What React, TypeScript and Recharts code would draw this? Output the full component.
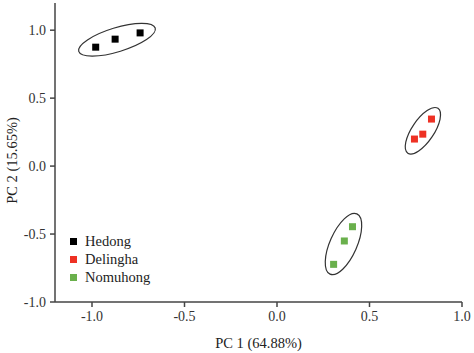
import { Label, Scatter, ScatterChart, XAxis, YAxis } from "recharts";

const hedongX = [-0.98, -0.875, -0.74];
const hedongY = [0.875, 0.934, 0.98];
const delinghaX = [0.743, 0.788, 0.835];
const delinghaY = [0.199, 0.235, 0.346];
const nomuhongX = [0.306, 0.364, 0.408];
const nomuhongY = [-0.723, -0.551, -0.446];

const xTicks = [-1.0, -0.5, 0.0, 0.5, 1.0];
const yTicks = [-1.0, -0.5, 0.0, 0.5, 1.0];

const toPoints = (xs: number[], ys: number[]) =>
  xs.map((x, i) => ({ x, y: ys[i] }));

const centroid = (xs: number[], ys: number[]) => ({
  x: xs.reduce((a, b) => a + b, 0) / xs.length,
  y: ys.reduce((a, b) => a + b, 0) / ys.length,
});

const groups = [
  { name: "Hedong", color: "#000000", data: toPoints(hedongX, hedongY), ring: { rx: 40, ry: 12, angle: -17 }, c: centroid(hedongX, hedongY) },
  { name: "Delingha", color: "#ee3124", data: toPoints(delinghaX, delinghaY), ring: { rx: 27, ry: 11, angle: -56 }, c: centroid(delinghaX, delinghaY) },
  { name: "Nomuhong", color: "#6ab04c", data: toPoints(nomuhongX, nomuhongY), ring: { rx: 33, ry: 13.5, angle: -66 }, c: centroid(nomuhongX, nomuhongY) },
];

const ellipses = groups.map((g) => ({ ...g.c, ...g.ring }));

const font = "'Liberation Serif', 'Times New Roman', serif";
const axisColor = "#444";

const square = (color: string) => (props: any) => (
  <rect x={props.cx - 3.5} y={props.cy - 3.5} width={7} height={7} fill={color} />
);

const ring = (props: any) => {
  const p = props.payload;
  return (
    <ellipse
      cx={props.cx}
      cy={props.cy}
      rx={p.rx}
      ry={p.ry}
      fill="none"
      stroke="#333"
      strokeWidth={1.2}
      transform={`rotate(${p.angle} ${props.cx} ${props.cy})`}
    />
  );
};

export default function App() {
  return (
    <div style={{ position: "absolute", left: 0, top: 0, background: "#fff" }}>
      <ScatterChart
        width={474}
        height={353}
        margin={{ top: 3, right: 12, bottom: 0, left: 0 }}
        style={{ fontFamily: font }}
      >
        <XAxis
          type="number"
          dataKey="x"
          domain={[-1.2, 1.0]}
          ticks={xTicks}
          tickFormatter={(v: number) => v.toFixed(1)}
          height={51}
          stroke={axisColor}
          strokeWidth={1.5}
          tickSize={5}
          tickMargin={4}
          tick={{ fontSize: 14, fill: "#333", fontFamily: font }}
          allowDataOverflow
        >
          <Label
            value="PC 1 (64.88%)"
            position="insideBottom"
            offset={5}
            style={{ fontSize: 14.5, fill: "#222", fontFamily: font }}
          />
        </XAxis>
        <YAxis
          type="number"
          dataKey="y"
          domain={[-1.0, 1.2]}
          ticks={yTicks}
          tickFormatter={(v: number) => v.toFixed(1)}
          width={55}
          stroke={axisColor}
          strokeWidth={1.5}
          tickSize={5}
          tickMargin={4}
          tick={{ fontSize: 14, fill: "#333", fontFamily: font }}
          allowDataOverflow
        >
          <Label
            value="PC 2 (15.65%)"
            angle={-90}
            position="insideLeft"
            offset={12}
            dy={8}
            style={{ fontSize: 14.5, fill: "#222", fontFamily: font, textAnchor: "middle" }}
          />
        </YAxis>
        {groups.map((g) => (
          <Scatter
            key={g.name}
            name={g.name}
            data={g.data}
            fill={g.color}
            shape={square(g.color)}
            isAnimationActive={false}
          />
        ))}
        <Scatter
          name="ellipses"
          data={ellipses}
          shape={ring}
          legendType="none"
          isAnimationActive={false}
        />
      </ScatterChart>
      <div
        style={{
          position: "absolute",
          left: 70,
          top: 232,
          fontFamily: font,
          fontSize: 14.5,
          color: "#222",
          lineHeight: "18px",
        }}
      >
        {groups.map((g) => (
          <div key={g.name} style={{ display: "flex", alignItems: "center" }}>
            <span
              style={{
                display: "inline-block",
                width: 7,
                height: 7,
                background: g.color,
                marginRight: 8,
              }}
            />
            {g.name}
          </div>
        ))}
      </div>
    </div>
  );
}
